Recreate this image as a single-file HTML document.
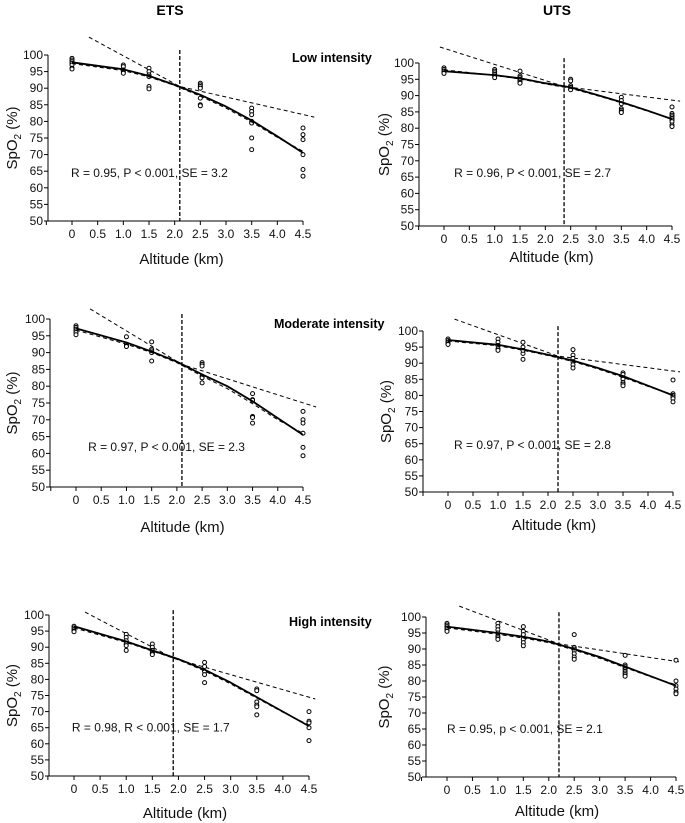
<!DOCTYPE html>
<html><head><meta charset="utf-8"><style>
html,body{margin:0;padding:0;background:#fff;}
svg{display:block;font-family:"Liberation Sans",Arial,sans-serif;}
</style></head><body>
<svg id="fig" width="685" height="823" viewBox="0 0 685 823">
<text x="170" y="15" font-size="14" font-weight="bold" text-anchor="middle">ETS</text>
<text x="557" y="15" font-size="14" font-weight="bold" text-anchor="middle">UTS</text>
<text x="292" y="62" font-size="12.5" font-weight="bold">Low intensity</text>
<text x="274" y="328" font-size="12.5" font-weight="bold">Moderate intensity</text>
<text x="289" y="626" font-size="12.5" font-weight="bold">High intensity</text>
</svg>
<script>
// ---- data (per panel) ----
const xTickLabels = ["0","0.5","1.0","1.5","2.0","2.5","3.0","3.5","4.0","4.5"];
const yTickLabels = [50,55,60,65,70,75,80,85,90,95,100];
const fitAltitudes = [0,1,1.5,2,2.5,3,3.5,4,4.5];

const p1Solid = [97.8,95.7,93.7,91,88,84.5,80.3,75.5,70.5];
const p1Dash  = [97.4,95.3,93.4,90.8,87.6,84,79.8,75.2,71];
const p1LineAlt = [0.33,2.1,4.72];
const p1LineVal = [105.4,90.5,81.3];
const p1Vert = 2.1;
const p1PtsAlt = [0,0,0,0,0,0,0,1,1,1,1,1,1.5,1.5,1.5,1.5,1.5,1.5,2.5,2.5,2.5,2.5,2.5,2.5,2.5,3.5,3.5,3.5,3.5,3.5,3.5,3.5,4.5,4.5,4.5,4.5,4.5,4.5];
const p1PtsVal = [99,98.5,98,97.5,97,96,95.8,97,96.5,95.5,95,94.5,96,95,94,93.5,90.5,89.8,91.5,91,90.5,90,87,85,84.7,84,83,82,80,79.5,75,71.5,78,76,74.5,70,65.5,63.5];
const p1Stat = "R = 0.95, P < 0.001, SE = 3.2";

const p2Solid = [97.5,96.3,95.3,93.8,92.5,90.3,88,85.5,82.8];
const p2Dash  = [97.9,96.2,95.1,93.6,92.2,90.1,87.8,85.3,82.9];
const p2LineAlt = [-0.08,2.37,4.66];
const p2LineVal = [104.9,92.8,88.3];
const p2Vert = 2.37;
const p2PtsAlt = [0,0,0,0,0,1,1,1,1,1,1,1.5,1.5,1.5,1.5,1.5,1.5,1.5,2.5,2.5,2.5,2.5,2.5,2.5,3.5,3.5,3.5,3.5,3.5,3.5,3.5,4.5,4.5,4.5,4.5,4.5,4.5,4.5,4.5,4.5];
const p2PtsVal = [98.5,98,97.5,97,96.8,98,97.5,97,96.5,96,95.5,97.5,96,95.5,95,94.5,94,93.8,95,94.5,93,92.5,92,91.8,89.5,88.5,87.5,86,85.5,85,84.8,86.5,84.5,84,83.5,83,82.5,82,81,80.5];
const p2Stat = "R = 0.96, P < 0.001, SE = 2.7";

const p3Solid = [97.2,93,90.3,87.3,83.5,80,75.5,70.5,65.5];
const p3Dash  = [96.7,92.5,90,87,83,79.3,74.8,70,66];
const p3LineAlt = [0.28,2.1,4.76];
const p3LineVal = [103,86.5,73.8];
const p3Vert = 2.1;
const p3PtsAlt = [0,0,0,0,0,0,1,1,1,1,1.5,1.5,1.5,1.5,1.5,2.5,2.5,2.5,2.5,2.5,2.5,3.5,3.5,3.5,3.5,3.5,3.5,4.5,4.5,4.5,4.5,4.5,4.5];
const p3PtsVal = [98,97.5,97,96.5,96,95.3,94.7,92.5,92,91.8,93.2,91,90.5,90,87.5,87,86.5,86,83,82.5,81,77.8,76,75.8,71,70.7,69,72.5,70,69,66,61.8,59.3];
const p3Stat = "R = 0.97, P < 0.001, SE = 2.3";

const p4Solid = [97.2,95.7,94.3,92.6,90.8,88.5,86,83,80];
const p4Dash  = [96.9,95.4,94,92.4,90.5,88.2,85.6,82.8,80.2];
const p4LineAlt = [0.13,2.2,4.64];
const p4LineVal = [103.7,92.2,87.3];
const p4Vert = 2.2;
const p4PtsAlt = [0,0,0,0,0,1,1,1,1,1,1.5,1.5,1.5,1.5,1.5,2.5,2.5,2.5,2.5,2.5,2.5,3.5,3.5,3.5,3.5,3.5,3.5,3.5,4.5,4.5,4.5,4.5,4.5,4.5];
const p4PtsVal = [97.5,97,96.5,96,95.8,97.5,96.5,95.5,94.5,94,96.5,95,93,91.2,94,94.2,92.5,91.5,90.5,89.5,88.5,87,86.5,85.5,85,84,83.5,83,84.8,80.5,80,79.5,79,78];
const p4Stat = "R = 0.97, P < 0.001, SE = 2.8";

const p5Solid = [96.5,91.8,89,86.3,83,79,74.5,70,65.5];
const p5Dash  = [96,91.5,88.8,86.1,82.6,78.6,74.2,69.8,65.8];
const p5LineAlt = [0.21,1.9,4.62];
const p5LineVal = [100.9,86.6,73.9];
const p5Vert = 1.9;
const p5PtsAlt = [0,0,0,0,0,1,1,1,1,1,1,1.5,1.5,1.5,1.5,1.5,1.5,2.5,2.5,2.5,2.5,2.5,3.5,3.5,3.5,3.5,3.5,3.5,4.5,4.5,4.5,4.5,4.5];
const p5PtsVal = [96.5,96,95.5,95,94.8,94,93,92,91,90.5,89,91,90,89,88.5,88,87.7,85.3,84,82.5,81.5,79,77,76.5,73,72,71.5,69,70,67,66.5,65,61];
const p5Stat = "R = 0.98, R < 0.001, SE = 1.7";

const p6Solid = [97,95,93.8,92.3,90,87.5,84.5,81.5,78.5];
const p6Dash  = [96.6,94.6,93.4,92,89.7,87.1,84.2,81.3,78.8];
const p6LineAlt = [0.24,2.2,4.6];
const p6LineVal = [103.4,91.6,85.9];
const p6Vert = 2.2;
const p6PtsAlt = [0,0,0,0,0,0,1,1,1,1,1,1,1,1.5,1.5,1.5,1.5,1.5,1.5,2.5,2.5,2.5,2.5,2.5,2.5,2.5,3.5,3.5,3.5,3.5,3.5,3.5,3.5,3.5,3.5,4.5,4.5,4.5,4.5,4.5,4.5];
const p6PtsVal = [98,97.5,97,96.5,96,95.5,98,97,96,95,94,93.5,93,97,95.5,94.5,93,92,91,94.5,90.5,90,89.5,88.5,87.5,86.8,88,85,84.5,84,83.5,83,82.5,82,81.5,86.5,80,78.5,77.5,76.5,76];
const p6Stat = "R = 0.95, p < 0.001, SE = 2.1";

// ---- layout ----
const panels = [
 {id:"ets-low", ax:48, y100:55, y50:221, x0:72, x45:303, ylabX:12, altY:264, statAlt:-0.02, statVal:64.5,
  solid:p1Solid, dash:p1Dash, lineAlt:p1LineAlt, lineVal:p1LineVal, vert:p1Vert, pa:p1PtsAlt, pv:p1PtsVal, stat:p1Stat},
 {id:"uts-low", ax:419, y100:63, y50:226, x0:444, x45:672, ylabX:384, altY:262, statAlt:0.2, statVal:66.3,
  solid:p2Solid, dash:p2Dash, lineAlt:p2LineAlt, lineVal:p2LineVal, vert:p2Vert, pa:p2PtsAlt, pv:p2PtsVal, stat:p2Stat},
 {id:"ets-moderate", ax:50, y100:319, y50:487, x0:76, x45:303, ylabX:12, altY:532, statAlt:0.24, statVal:61.9,
  solid:p3Solid, dash:p3Dash, lineAlt:p3LineAlt, lineVal:p3LineVal, vert:p3Vert, pa:p3PtsAlt, pv:p3PtsVal, stat:p3Stat},
 {id:"uts-moderate", ax:423, y100:331, y50:492, x0:448, x45:673, ylabX:386, altY:530, statAlt:0.12, statVal:64.6,
  solid:p4Solid, dash:p4Dash, lineAlt:p4LineAlt, lineVal:p4LineVal, vert:p4Vert, pa:p4PtsAlt, pv:p4PtsVal, stat:p4Stat},
 {id:"ets-high", ax:49, y100:615, y50:776, x0:74, x45:309, ylabX:12, altY:818, statAlt:-0.04, statVal:65,
  solid:p5Solid, dash:p5Dash, lineAlt:p5LineAlt, lineVal:p5LineVal, vert:p5Vert, pa:p5PtsAlt, pv:p5PtsVal, stat:p5Stat},
 {id:"uts-high", ax:426, y100:617, y50:777, x0:447, x45:676, ylabX:384, altY:816, statAlt:0, statVal:65,
  solid:p6Solid, dash:p6Dash, lineAlt:p6LineAlt, lineVal:p6LineVal, vert:p6Vert, pa:p6PtsAlt, pv:p6PtsVal, stat:p6Stat}
];

const NS = "http://www.w3.org/2000/svg";
const svg = document.getElementById("fig");
function mk(tag, attrs, parent){
  const e = document.createElementNS(NS, tag);
  for (const k in attrs) e.setAttribute(k, attrs[k]);
  parent.appendChild(e);
  return e;
}

panels.forEach(p => {
  const sx = a => p.x0 + (p.x45 - p.x0) * a / 4.5;
  const sy = v => p.y50 - (p.y50 - p.y100) * (v - 50) / 50;
  const g = mk("g", {}, svg);
  
  

  const ya = mk("line", {x1:p.ax, y1:p.y100, x2:p.ax, y2:p.y50, stroke:"#000", "stroke-width":1}, g);
  
  
  yTickLabels.forEach(v => {
    mk("line", {x1:p.ax-4, y1:sy(v), x2:p.ax, y2:sy(v), stroke:"#000"}, g);
    const t = mk("text", {x:p.ax-5, y:sy(v)+4, "font-size":12, "text-anchor":"end", fill:"#111"}, g);
    t.textContent = v;
    
    
  });
  const xa = mk("line", {x1:p.ax, y1:p.y50, x2:sx(4.5), y2:p.y50, stroke:"#000", "stroke-width":1}, g);
  
  
  for (let i = -1; i < xTickLabels.length; i++) {
    const a = i * 0.5;
    mk("line", {x1:sx(a), y1:p.y50, x2:sx(a), y2:p.y50+4, stroke:"#000"}, g);
    if (i >= 0) {
      const t = mk("text", {x:sx(a), y:p.y50+17, "font-size":12, "text-anchor":"middle", fill:"#111"}, g);
      t.textContent = xTickLabels[i];
      
      
    }
  }
  const xt = mk("text", {x:(p.ax + sx(4.5))/2 + 6, y:p.altY, "font-size":15, "text-anchor":"middle", fill:"#111"}, g);
  xt.textContent = "Altitude (km)";
  
  
  const cy = (p.y100 + p.y50)/2;
  const yt = mk("text", {x:p.ylabX, y:cy, "font-size":15, "text-anchor":"middle", fill:"#111",
    transform:"rotate(-90 " + p.ylabX + " " + cy + ")", dy:"5"}, g);
  yt.innerHTML = 'SpO<tspan font-size="10" dy="4">2</tspan><tspan dy="-4"> (%)</tspan>';
  
  

  // broken-stick dashed line
  const ld = p.lineAlt.map((a, i) => (i ? "L" : "M") + sx(a).toFixed(1) + "," + sy(p.lineVal[i]).toFixed(1)).join(" ");
  const ll = mk("path", {d:ld, fill:"none", stroke:"#000", "stroke-width":1, "stroke-dasharray":"4,3"}, g);
  
  
  const vl = mk("line", {x1:sx(p.vert), y1:sy(101.5), x2:sx(p.vert), y2:p.y50,
    stroke:"#000", "stroke-width":1.3, "stroke-dasharray":"4,2"}, g);
  
  

  p.pa.forEach((a, i) => {
    const c = mk("circle", {cx:sx(a), cy:sy(p.pv[i]), r:2, fill:"#fff", stroke:"#000", "stroke-width":1}, g);
    
    
  });

  const path = arr => fitAltitudes.map((a, i) => (i ? "L" : "M") + sx(a).toFixed(1) + "," + sy(arr[i]).toFixed(1)).join(" ");
  const dc = mk("path", {d:path(p.dash), fill:"none", stroke:"#000", "stroke-width":1, "stroke-dasharray":"4,3"}, g);
  
  
  const sc = mk("path", {d:path(p.solid), fill:"none", stroke:"#000", "stroke-width":1.8, "stroke-linejoin":"round"}, g);
  
  

  const st = mk("text", {x:sx(p.statAlt), y:sy(p.statVal)+4, "font-size":12, fill:"#111"}, g);
  st.textContent = p.stat;
  
  
});
</script>
</body></html>
